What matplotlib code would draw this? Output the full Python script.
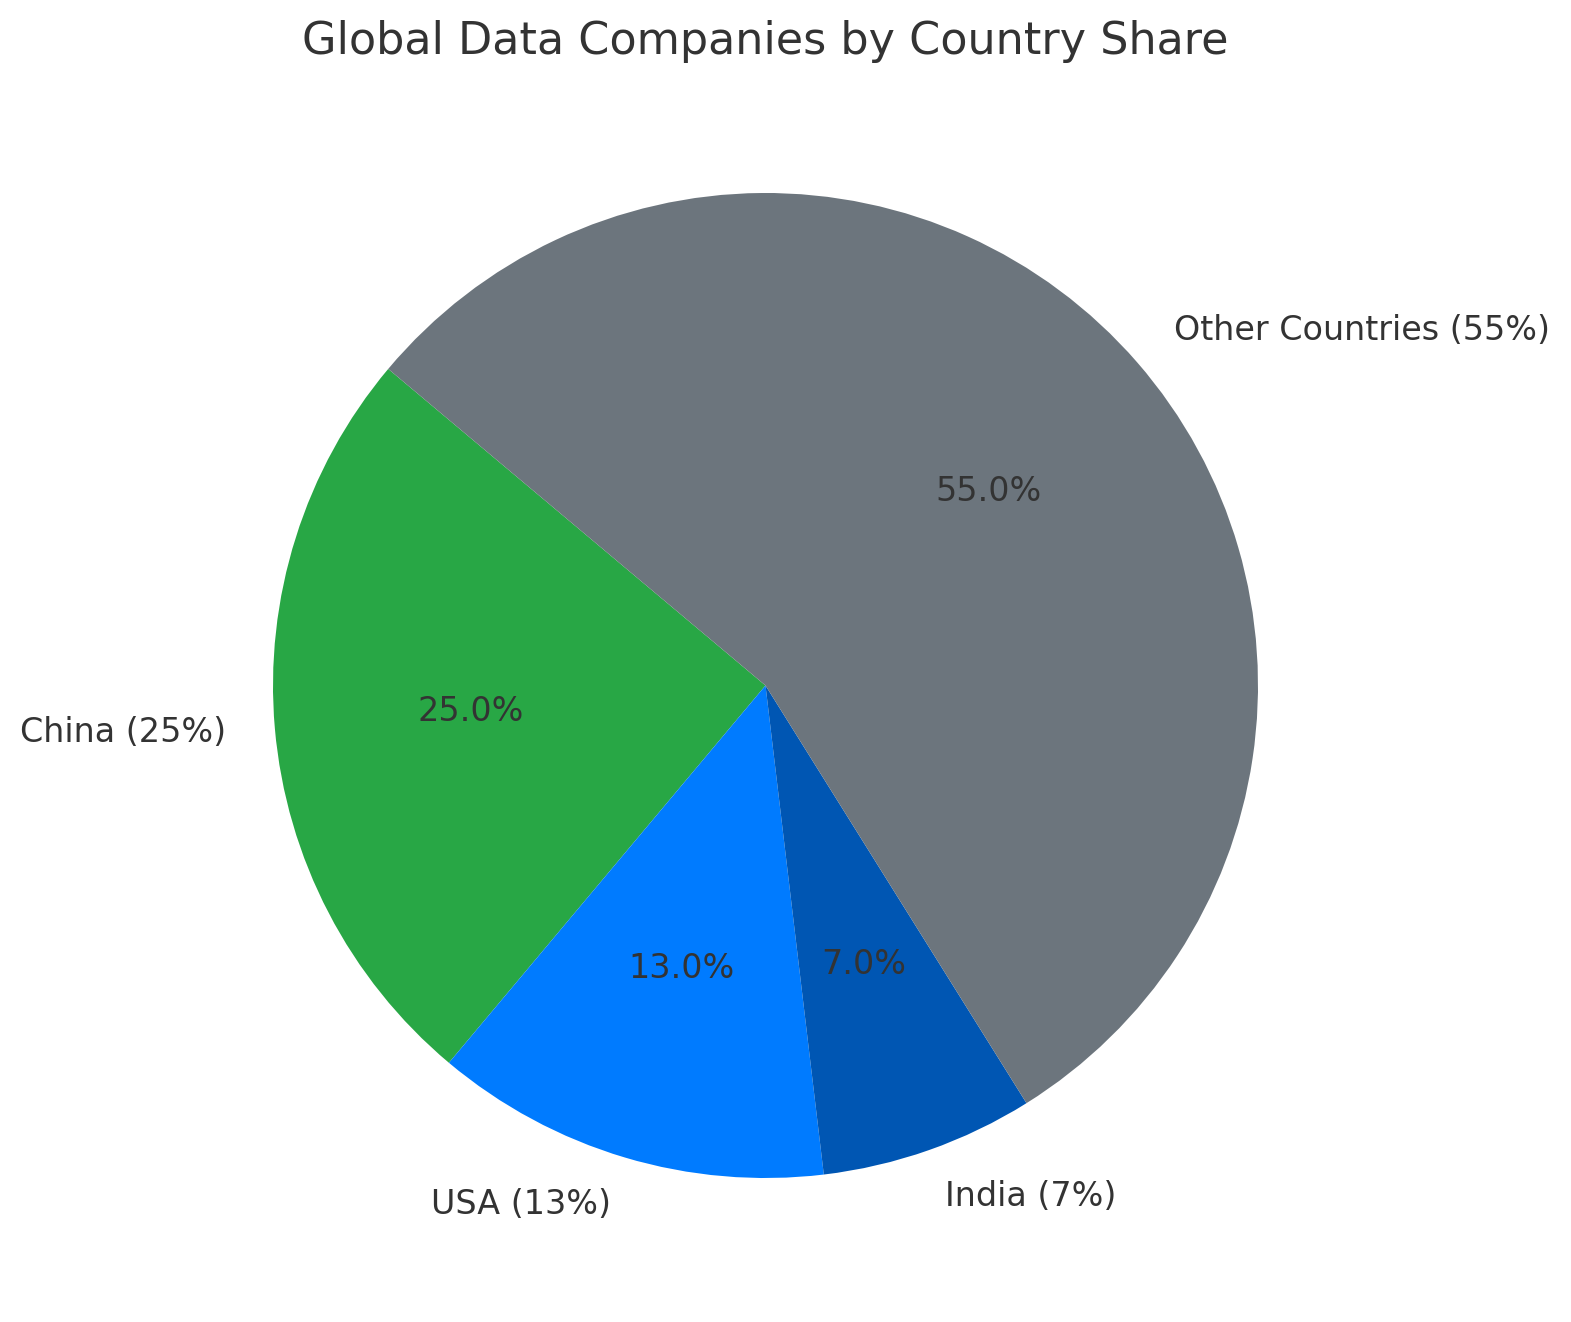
import matplotlib
matplotlib.use("Agg")
import matplotlib.pyplot as plt

countries = ["China", "USA", "India", "Other Countries"]
shares = [25, 13, 7, 55]
colors = ["#28a745", "#007bff", "#0056b3", "#6c757d"]
labels = [f"{c} ({s}%)" for c, s in zip(countries, shares)]
title = "Global Data Companies by Country Share"

W, H, DPI = 1571, 1322, 200
fig = plt.figure(figsize=(W / DPI, H / DPI), dpi=DPI)
R = 492.5
cx, cy = 765.5, H - 685.5
L = 1.3
side = 2 * L * R
ax = fig.add_axes([(cx - side / 2) / W, (cy - side / 2) / H, side / W, side / H])
wedges, texts, autotexts = ax.pie(
    shares, labels=labels, colors=colors, startangle=140,
    autopct="%1.1f%%", textprops={"fontsize": 12, "color": "#333333"},
)
ax.set_xlim(-L, L)
ax.set_ylim(-L, L)
ax.set_aspect("equal")
ax.axis("off")
fig.text(cx / W, 1 - 41.5 / H, title, ha="center", va="center", fontsize=16, color="#333333")
fig.savefig("out.png", dpi=DPI)
